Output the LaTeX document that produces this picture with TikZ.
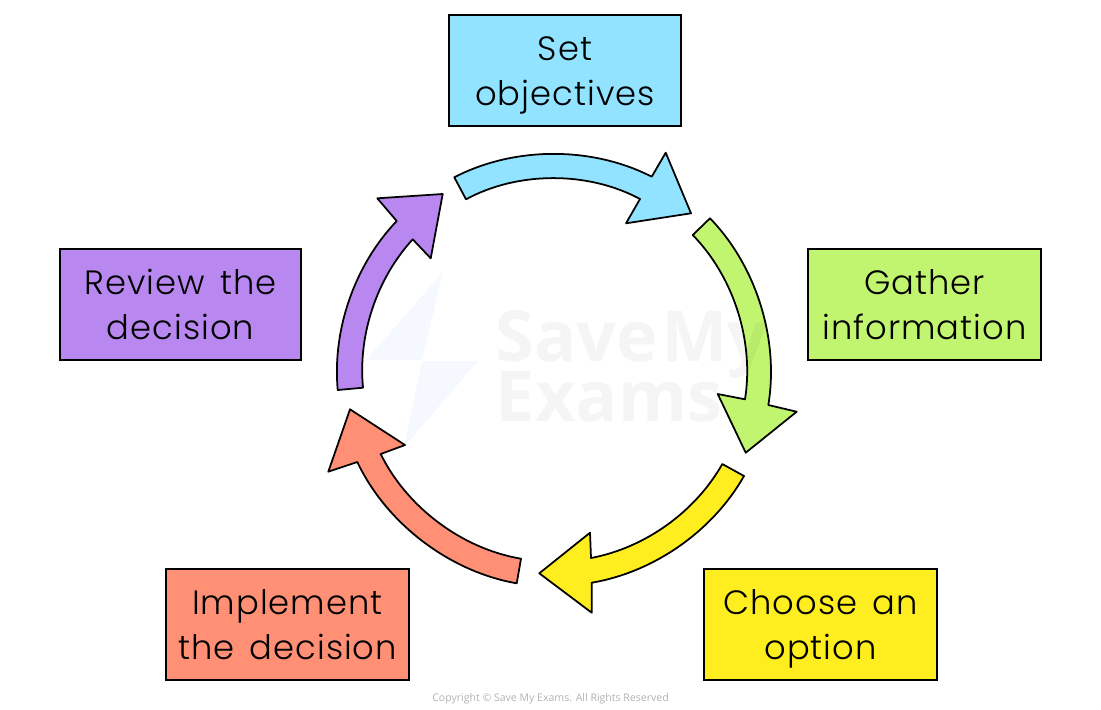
\documentclass[tikz,border=0pt]{standalone}
\usepackage{fontspec}
\setmainfont[LetterSpace=3,WordSpace=1.5,UprightFont=* Light]{Poppins}
\newfontfamily\markfont{Open Sans}
\definecolor{setblue}{HTML}{91E3FF}
\definecolor{gathergreen}{HTML}{C1F56F}
\definecolor{chooseyellow}{HTML}{FFEE1F}
\definecolor{implred}{HTML}{FF8F75}
\definecolor{reviewpurple}{HTML}{B888F0}
\definecolor{boltblue}{HTML}{F5F8FF}
\tikzset{
	stepbox/.style={draw=black, line width=0.6pt, minimum height=1.11cm, align=center, inner sep=0pt, text height=21.4pt, text depth=1.5pt, font=\fontsize{9.6}{12.8}\selectfont},
	ringarrow/.style={draw=black, line width=0.5pt, line join=round, looseness=0.87},
}
\begin{document}
\begin{tikzpicture}
	\useasboundingbox (0,0) rectangle (11.01,7.09);
	% lightning mark
	\fill[boltblue] (4.43,4.37) -- (3.66,3.49) -- (4.22,3.49) -- cycle;
	\fill[boltblue] (4.22,3.48) -- (4.78,3.48) -- (4.04,2.62) -- cycle;

	% boxes
	\node[stepbox, fill=setblue, minimum width=2.32cm] (setobj) at (5.65,6.385) {Set\\objectives};
	\node[stepbox, fill=gathergreen, minimum width=2.33cm] (gather) at (9.245,4.045) {Gather\\information};
	\node[stepbox, fill=chooseyellow, minimum width=2.33cm] (choose) at (8.205,0.845) {Choose an\\option};
	\node[stepbox, fill=implred, minimum width=2.43cm] (implement) at (2.875,0.845) {Implement\\the decision};
	\node[stepbox, fill=reviewpurple, minimum width=2.41cm] (review) at (1.805,4.045) {Review the\\decision};

	% ring of arrows
	\draw[ringarrow, fill=setblue] (4.543,5.317) to[bend left=27.3] (6.517,5.323) -- (6.657,5.563) -- (6.91,4.957) -- (6.26,4.857) -- (6.40,5.10) to[bend right=28.4] (4.66,5.097) -- cycle;
	\draw[ringarrow, fill=gathergreen] (7.10,4.907) to[bend left=26.8] (7.683,3.04) -- (7.967,2.973) -- (7.457,2.563) -- (7.177,3.15) -- (7.45,3.097) to[bend right=26.7] (6.927,4.74) -- cycle;
	\draw[ringarrow, fill=chooseyellow] (7.44,2.33) to[bend left=25.4] (5.917,1.263) -- (5.917,0.963) -- (5.393,1.357) -- (5.90,1.763) -- (5.91,1.51) to[bend right=24.9] (7.223,2.45) -- cycle;
	\draw[ringarrow, fill=implred] (5.167,1.257) to[bend left=27.4] (3.573,2.47) -- (3.283,2.373) -- (3.50,2.997) -- (4.05,2.64) -- (3.807,2.55) to[bend right=27.1] (5.21,1.503) -- cycle;
	\draw[ringarrow, fill=reviewpurple] (3.377,3.19) to[bend left=24.4] (3.967,4.88) -- (3.773,5.107) -- (4.427,5.15) -- (4.307,4.507) -- (4.127,4.697) to[bend right=24] (3.63,3.213) -- cycle;

	% watermark and footer
	\node[anchor=west, font=\markfont\bfseries\fontsize{20}{17}\selectfont, text=black, text opacity=0.04, align=left, inner sep=0pt] (savemark) at (4.95,3.43) {Save \kern-0.22em My\\[-3pt]Exams};
	\node[font=\markfont\fontsize{3}{4}\selectfont, text=black!30] (copyright) at (5.505,0.10) {Copyright © Save My Exams. All Rights Reserved};
\end{tikzpicture}
\end{document}
